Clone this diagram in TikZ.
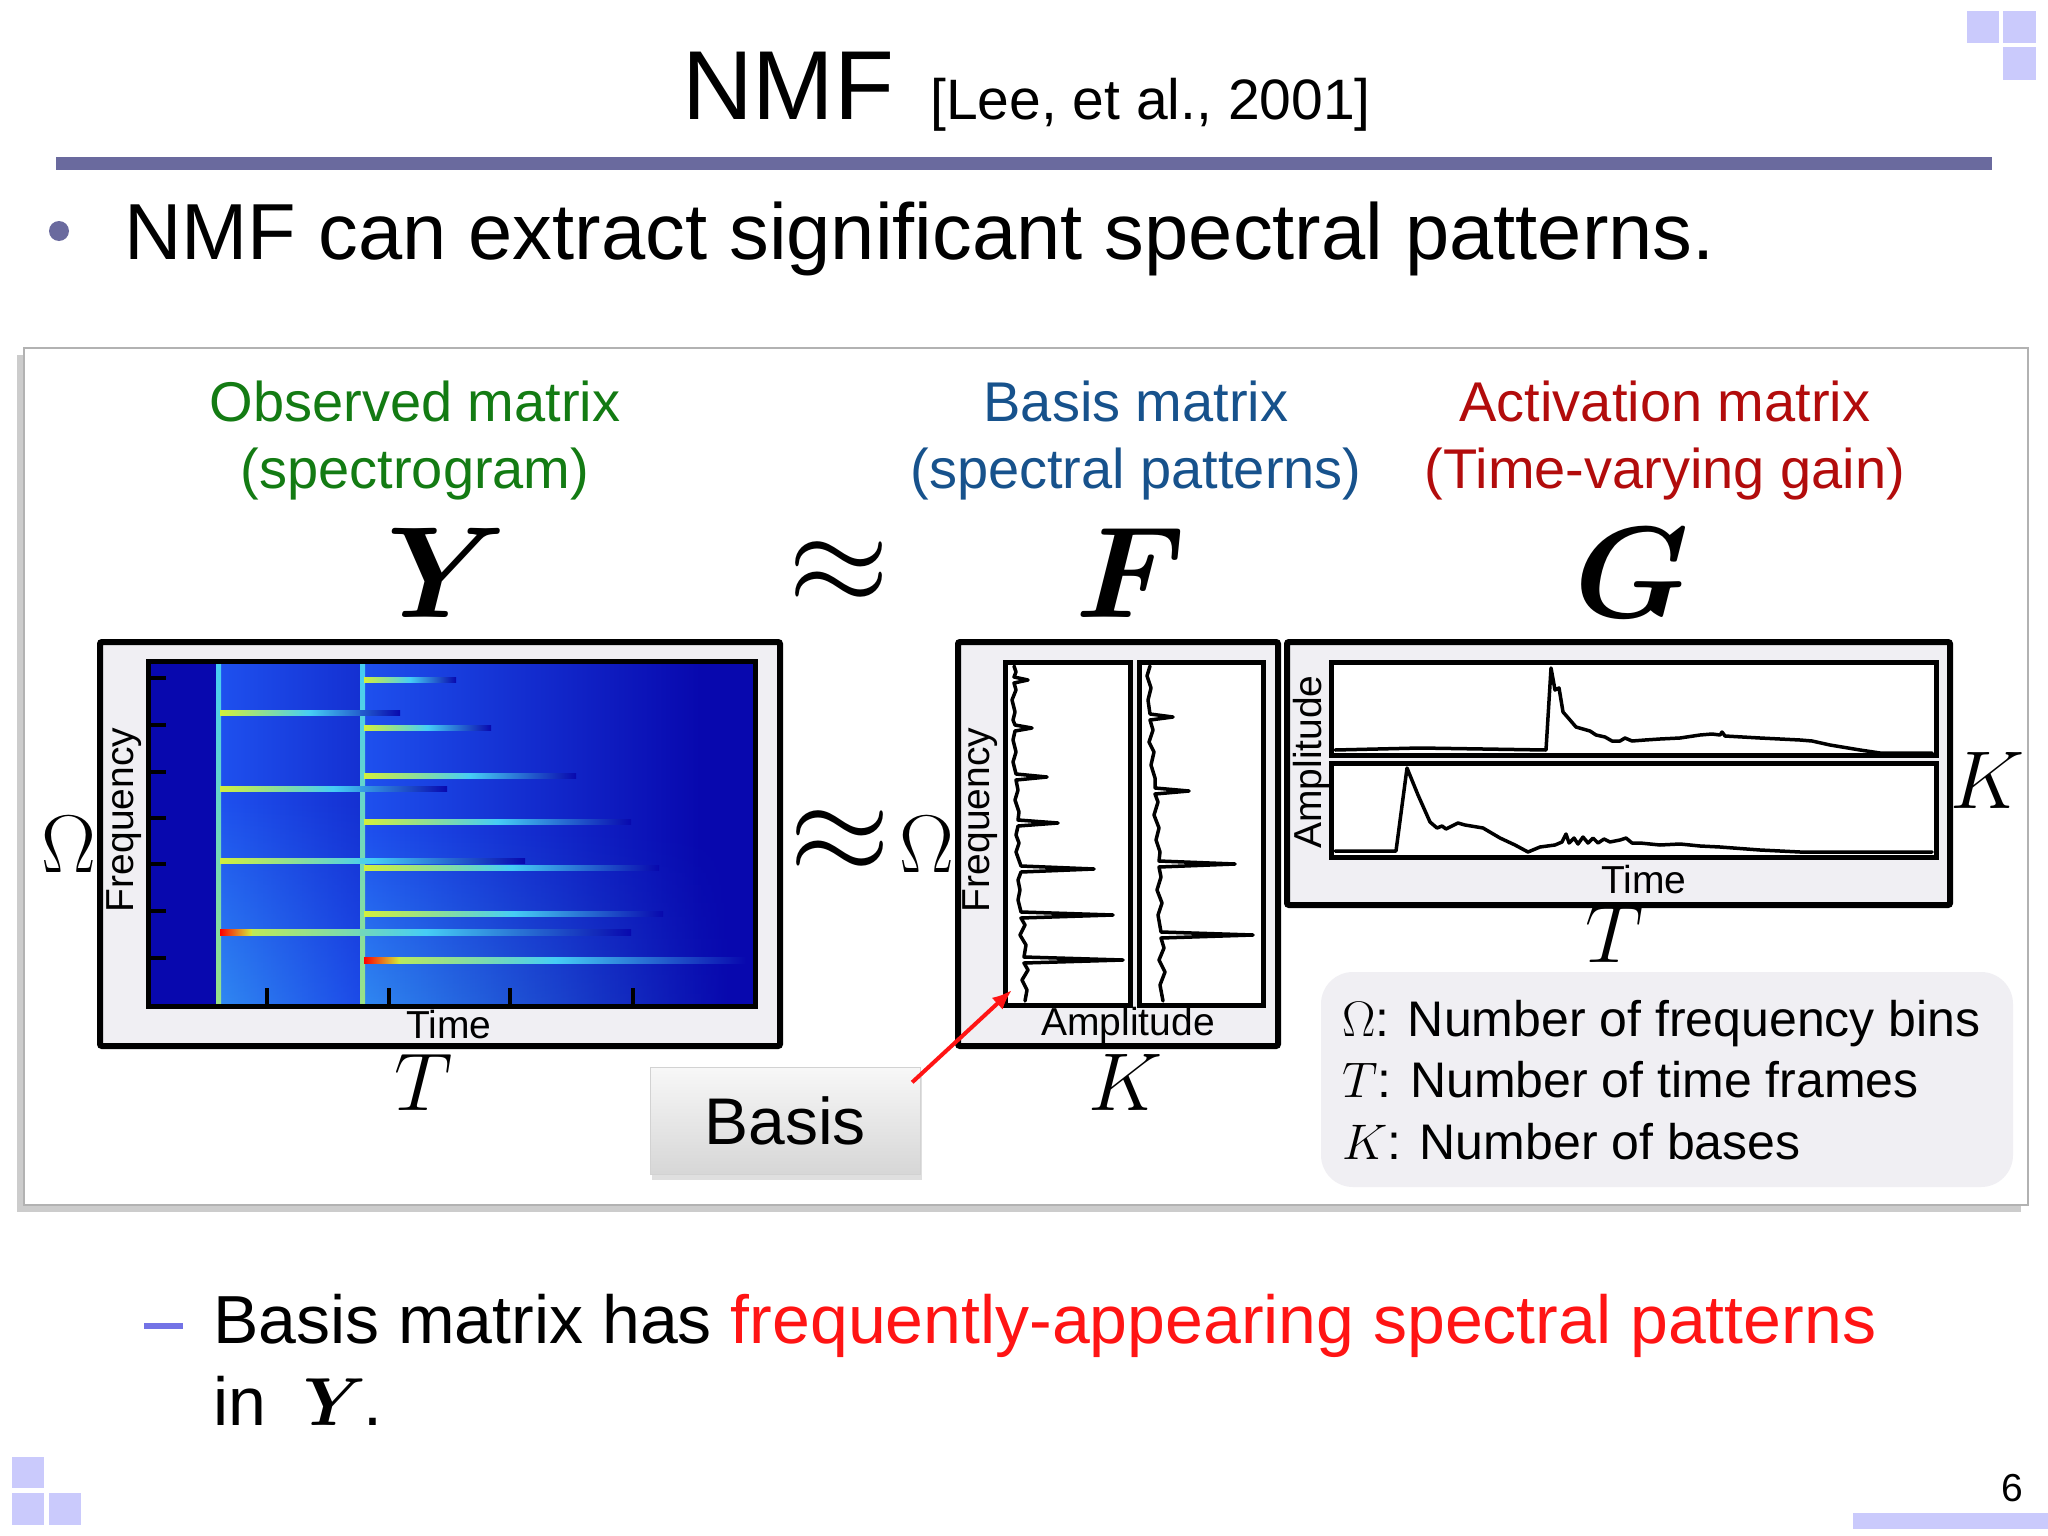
\RequirePackage{fix-cm}
\documentclass[tikz,border=0pt]{standalone}
\usepackage{amsmath,bm}
\usepackage[no-math]{fontspec}
\setmainfont{Liberation Sans}
\setsansfont{Liberation Sans}
\usetikzlibrary{arrows.meta,fadings,shadows}
\definecolor{barpurple}{HTML}{6A6A9E}
\definecolor{tilelav}{HTML}{CACAFC}
\definecolor{dashlav}{HTML}{7373E6}
\definecolor{obsgreen}{HTML}{137B13}
\definecolor{basblue}{HTML}{17528C}
\definecolor{actred}{HTML}{B20C0C}
\definecolor{hotred}{HTML}{FF1414}
\definecolor{panelgray}{HTML}{F0EFF3}
\definecolor{specdark}{HTML}{0808AE}
\definecolor{specmid}{HTML}{1E50EE}
\definecolor{speccyan}{HTML}{46CDF5}
\definecolor{specyel}{HTML}{D2F03C}
\newcommand{\pxsize}[1]{\fontsize{#1}{#1}\selectfont}
\tikzfading[name=glowup,top color=transparent!100,bottom color=transparent!20]

\begin{document}
\begin{tikzpicture}[x=1pt,y=-1pt,
  panel/.style={draw=black,line width=6pt,fill=panelgray,rounded corners=2pt},
  axbox/.style={draw=black,line width=5pt,fill=white},
  curve/.style={line width=3.5pt,line join=round,line cap=round},
  axlab/.style={font=\pxsize{39},inner sep=0pt},
  bigmath/.style={font=\pxsize{130},inner sep=0pt},
  dimmath/.style={font=\pxsize{82},inner sep=0pt},
  head/.style={font=\pxsize{56},inner sep=0pt,anchor=base},
  legend/.style={font=\pxsize{50},inner sep=0pt,anchor=base west},
  harm/.style={left color=specyel,right color=specdark,middle color=speccyan},
  onset/.style={top color=speccyan,bottom color=specyel!60!speccyan},
  tile/.style={fill=tilelav}]
\useasboundingbox[fill=white] (0,0) rectangle (2048,1536);
% slide decoration
\fill[tile] (1967,11) rectangle (1999,43);\fill[tile] (2003,11) rectangle (2036,43);\fill[tile] (2003,47) rectangle (2036,80);
\fill[tile] (12,1457) rectangle (44,1488);\fill[tile] (12,1493) rectangle (44,1525);\fill[tile] (49,1493) rectangle (81,1525);
\fill[tile] (1853,1513) rectangle (2048,1529);
\node[anchor=base east,font=\pxsize{39},inner sep=0pt] (pageno) at (2023,1501) {6};
% title and bullet
\node[anchor=base west,inner sep=0pt,font=\pxsize{98}] (title) at (682,120) {NMF};
\node[anchor=base west,inner sep=0pt,font=\pxsize{57}] (cite) at (930,120) {[Lee, et al., 2001]};
\fill[barpurple] (56,157) rectangle (1992,170);
\fill[barpurple] (59,231) circle (10);
\node[anchor=base west,inner sep=0pt,font=\pxsize{79.5}] (point) at (124,259) {NMF can extract significant spectral patterns.};
% figure frame
\fill[gray!40] (17,355) rectangle (2021,1212);
\draw[gray!60,line width=1.5pt,fill=white] (24,348) rectangle (2028,1205);
\node[head,obsgreen] (hobs) at (415,421) {Observed matrix};\node[head,obsgreen] (hobs2) at (415,488) {(spectrogram)};
\node[head,basblue] (hbas) at (1136,421) {Basis matrix};\node[head,basblue] (hbas2) at (1136,488) {(spectral patterns)};
\node[head,actred] (hact) at (1665,421) {Activation matrix};\node[head,actred] (hact2) at (1665,488) {(Time-varying gain)};
\node[bigmath,anchor=base] (Ymat) at (447,617) {$\bm{Y}$};
\node[bigmath] (approx) at (839,573) {$\approx$};
\node[bigmath,anchor=base] (Fmat) at (1131,617) {$\bm{F}$};
\node[bigmath,anchor=base] (Gmat) at (1632,617) {$\bm{G}$};
% spectrogram Y
\draw[panel] (100,642) rectangle (780,1046);
\fill[specdark] (148,661) rectangle (755,1006);
\shade[left color=specmid,right color=specmid!55!specdark] (221,663) rectangle (362,1004);
\shade[left color=speccyan!55!specmid,right color=specmid,path fading=glowup] (221,800) rectangle (362,1004);
\shade[left color=specmid,right color=specdark] (365,663) rectangle (700,1004);
\shade[left color=speccyan!55!specmid,right color=specdark,path fading=glowup] (365,830) rectangle (730,1004);
\shade[onset] (216,663) rectangle (221,1004);
\shade[onset] (360,663) rectangle (365,1004);
\shade[harm] (220,710) rectangle (400,715);
\shade[harm] (220,786) rectangle (447,791);
\shade[harm] (220,858) rectangle (525,863);
\shade[harm] (220,929) rectangle (631,935);\shade[left color=red,right color=specyel] (220,929) rectangle (252,935);
\shade[harm] (364,677) rectangle (456,682);
\shade[harm] (364,725) rectangle (491,730);
\shade[harm] (364,773) rectangle (576,778);
\shade[harm] (364,819) rectangle (631,824);
\shade[harm] (364,865) rectangle (659,870);
\shade[harm] (364,911) rectangle (663,916);
\shade[harm] (364,957) rectangle (746,963);\shade[left color=red,right color=specyel] (364,957) rectangle (400,963);
\draw[line width=5pt] (148,661) rectangle (755,1006);
\draw[line width=4pt] (150,678)--(166,678) (150,725)--(166,725) (150,772)--(166,772) (150,818)--(166,818) (150,864)--(166,864) (150,911)--(166,911) (150,958)--(166,958);
\draw[line width=4pt] (267,1004)--(267,988) (389,1004)--(389,988) (510,1004)--(510,988) (633,1004)--(633,988);
\node[axlab,rotate=90] (yfreq) at (124,820) {Frequency};
\node[axlab,anchor=base] (ytime) at (449,1038) {Time};
\node[dimmath,anchor=base] (yOm) at (69,872) {$\Omega$};
\node[dimmath,anchor=base] (yT) at (424,1110) {$T$};
\node[bigmath] (approx2) at (840,842) {$\approx$};
% basis F
\node[dimmath,anchor=base] (fOm) at (927,872) {$\Omega$};
\draw[panel] (958,642) rectangle (1278,1046);
\draw[axbox] (1005,662) rectangle (1130,1005);
\draw[axbox] (1139,662) rectangle (1263,1005);
\draw[curve] (1014,666)--(1016,672)--(1014,677)--(1028,680)--(1014,683)--(1016,690)--(1012,700)--(1015,712)--(1013,720)--(1015,725)--(1032,728)--(1015,731)--(1013,740)--(1016,752)--(1013,762)--(1016,774)--(1047,777)--(1016,780)--(1018,790)--(1015,800)--(1019,812)--(1018,820)--(1058,823)--(1018,826)--(1016,835)--(1019,843)--(1016,852)--(1021,866)--(1094,869)--(1021,872)--(1018,880)--(1020,890)--(1018,900)--(1021,912)--(1113,915)--(1021,918)--(1025,925)--(1020,935)--(1026,945)--(1024,957)--(1123,960)--(1024,963)--(1028,970)--(1022,980)--(1027,990)--(1025,1001);
\draw[curve] (1150,666)--(1147,676)--(1151,688)--(1148,700)--(1150,714)--(1173,717)--(1150,720)--(1153,730)--(1149,742)--(1154,752)--(1151,765)--(1155,778)--(1155,788)--(1189,791)--(1155,794)--(1158,802)--(1154,815)--(1159,828)--(1156,840)--(1160,852)--(1159,861)--(1235,864)--(1159,867)--(1161,877)--(1157,890)--(1162,903)--(1158,915)--(1161,932)--(1253,935)--(1161,938)--(1164,948)--(1159,960)--(1165,972)--(1160,985)--(1163,1001);
\node[axlab,rotate=90] (ffreq) at (980,820) {Frequency};
\node[axlab,anchor=base] (famp) at (1128,1035) {Amplitude};
\node[dimmath,anchor=base] (fK) at (1126,1110) {$K$};
% activation G
\draw[panel] (1287,642) rectangle (1950,905);
\draw[axbox] (1331,662) rectangle (1936,755);
\draw[axbox] (1331,763) rectangle (1936,857);
\draw[curve] (1335,750)--(1420,748)--(1546,750)--(1551,668)--(1555,690)--(1559,688)--(1563,712)--(1570,720)--(1576,727)--(1590,731)--(1596,735)--(1605,737)--(1612,741)--(1620,741)--(1625,738)--(1632,741)--(1645,740)--(1660,739)--(1680,738)--(1700,735)--(1712,734)--(1720,735)--(1722,732)--(1725,736)--(1760,738)--(1800,740)--(1812,741)--(1830,745)--(1860,750)--(1880,753)--(1932,753);
\draw[curve] (1335,851)--(1396,851)--(1407,768)--(1418,795)--(1430,822)--(1437,828)--(1442,826)--(1446,829)--(1452,826)--(1458,823)--(1465,825)--(1483,828)--(1500,838)--(1515,845)--(1528,852)--(1540,847)--(1555,845)--(1562,842)--(1566,834)--(1569,843)--(1574,838)--(1578,844)--(1583,837)--(1588,843)--(1593,838)--(1598,843)--(1604,839)--(1610,842)--(1620,840)--(1626,838)--(1632,843)--(1640,843)--(1660,845)--(1680,844)--(1700,846)--(1720,847)--(1760,850)--(1800,852)--(1932,852);
\node[axlab,rotate=90] (gamp) at (1311,762) {Amplitude};
\node[axlab,anchor=base] (gtime) at (1644,893) {Time};
\node[dimmath,anchor=base] (gK) at (1988,808) {$K$};
\node[dimmath,anchor=base] (gT) at (1615,962) {$T$};
% basis callout
\node[top color=gray!6,bottom color=gray!32,draw=gray!35,minimum width=270pt,minimum height=107pt,font=\pxsize{66},drop shadow={shadow xshift=2pt,shadow yshift=-5pt,opacity=.25}] (basis) at (785,1121) {Basis};
\coordinate (bastip) at (1012,990);
\draw[hotred,line width=4pt,-{Latex[length=20pt,width=16pt]}] ([shift={(-8,15)}]basis.north east) -- (bastip);
% legend
\fill[panelgray,rounded corners=32pt] (1321,972) rectangle (2013,1187);
\node[legend] (lom) at (1342,1036) {$\Omega$: Number of frequency bins};
\node[legend] (lt) at (1342,1097) {$T$: Number of time frames};
\node[legend] (lk) at (1342,1159) {$K$: Number of bases};
% sub point
\fill[dashlav] (144,1323) rectangle (183,1329);
\node[anchor=base west,inner sep=0pt,font=\pxsize{68}] (sub1) at (213,1343) {Basis matrix has \textcolor{hotred}{frequently-appearing spectral patterns}};
\node[anchor=base west,inner sep=0pt,font=\pxsize{68}] (sub2) at (213,1425) {in\ \ $\bm{Y}$\kern-4pt.};
\end{tikzpicture}
\end{document}
